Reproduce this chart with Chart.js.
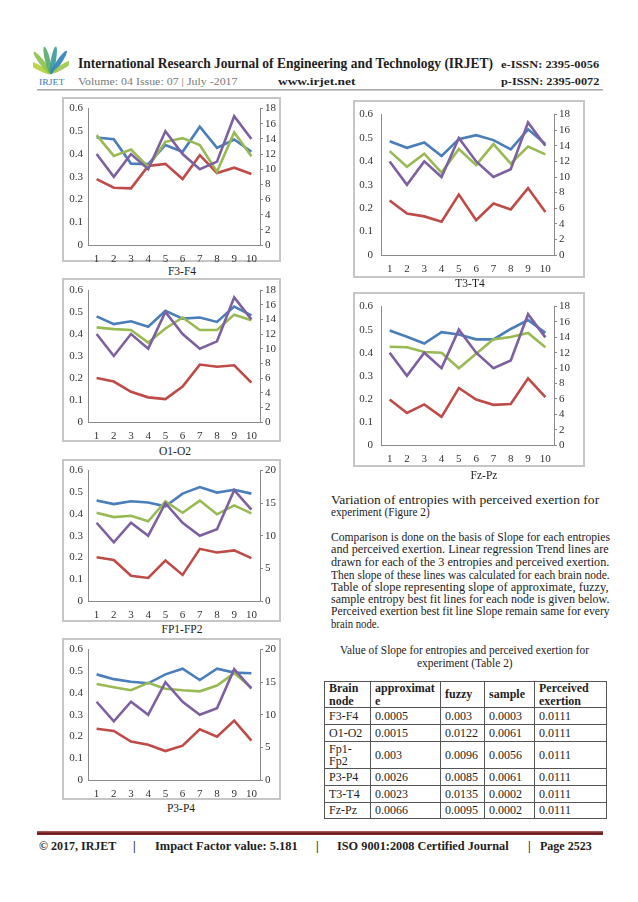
<!DOCTYPE html>
<html lang="en">
<head>
    <meta charset="UTF-8">
    <title>IRJET - Variation of entropies with perceived exertion</title>
    <script src="https://cdnjs.cloudflare.com/ajax/libs/Chart.js/4.4.1/chart.umd.min.js"></script>
    <style>
        * { margin: 0; padding: 0; box-sizing: border-box; }

        body {
            width: 638px;
            height: 902px;
            position: relative;
            overflow: hidden;
            background: #fff;
            font-family: "Liberation Serif", serif;
            color: #1e1e1e;
        }

        .t {
            position: absolute;
            white-space: nowrap;
            line-height: 14px;
            font-size: 11px;
            transform-origin: 0 50%;
        }

        .p { font-size: 12.5px; color: #222; }

        .b { font-weight: bold; }

        .box {
            position: absolute;
            border: 2px solid #c6c6c6;
        }

        canvas { position: absolute; }

        .cap {
            position: absolute;
            font-size: 11.5px;
            line-height: 14px;
            text-align: center;
            width: 100px;
        }

        .rule {
            position: absolute;
            left: 37px;
            width: 566px;
        }

        table {
            position: absolute;
            left: 324px;
            top: 681px;
            border-collapse: collapse;
            table-layout: fixed;
            font-size: 12px;
            line-height: 12.5px;
            border: 1.5px solid #666;
        }

        td {
            border: 1px solid #555;
            padding: 0 4px;
            vertical-align: middle;
            white-space: pre-line;
            overflow: hidden;
        }

        thead td { font-weight: bold; }
    </style>
</head>
<body>
    <!-- header -->
    <svg style="position:absolute;left:33px;top:43px" width="36" height="32" viewBox="0 0 36 32">
        <g fill-opacity="0.9">
            <ellipse cx="18" cy="17" rx="2.6" ry="14" fill="#b5cf3a" transform="rotate(-62 18 31)"/>
            <ellipse cx="18" cy="17" rx="2.6" ry="14" fill="#8cc04a" transform="rotate(-38 18 31)"/>
            <ellipse cx="18" cy="17" rx="2.6" ry="14" fill="#5aa96a" transform="rotate(-14 18 31)"/>
            <ellipse cx="18" cy="17" rx="2.6" ry="14" fill="#3a9a9a" transform="rotate(10 18 31)"/>
            <ellipse cx="18" cy="17" rx="2.6" ry="14" fill="#2f7fb8" transform="rotate(34 18 31)"/>
            <ellipse cx="18" cy="17" rx="2.4" ry="12" fill="#9cc84a" transform="rotate(58 18 31)"/>
        </g>
    </svg>
    <div class="t" style="left:39px;top:75px;font-size:9px;color:#3a78c0" data-w="26">IRJET</div>

    <div class="t b" style="left:78px;top:57px;font-size:14px" data-w="415">International Research Journal of Engineering and Technology (IRJET)</div>
    <div class="t b" style="left:501px;top:57px" data-w="98">e-ISSN: 2395-0056</div>
    <div class="t" style="left:78px;top:74px;color:#7a7a7a" data-w="159">Volume: 04 Issue: 07 | July -2017</div>
    <div class="t b" style="left:278px;top:74px" data-w="78">www.irjet.net</div>
    <div class="t b" style="left:501px;top:74px" data-w="98">p-ISSN: 2395-0072</div>
    <div class="rule" style="top:89px;height:2px;background:linear-gradient(#9a9a9a,#dcdcdc)"></div>

    <!-- charts -->
    <div class="box" style="left:62px;top:97px;width:219px;height:165px"></div>
    <canvas id="c1" style="left:62px;top:97px"></canvas>
    <div class="cap" style="left:132px;top:264px">F3-F4</div>

    <div class="box" style="left:62px;top:278px;width:219px;height:164px"></div>
    <canvas id="c2" style="left:62px;top:278px"></canvas>
    <div class="cap" style="left:125px;top:444px">O1-O2</div>

    <div class="box" style="left:62px;top:459px;width:219px;height:163px"></div>
    <canvas id="c3" style="left:62px;top:459px"></canvas>
    <div class="cap" style="left:132px;top:622px">FP1-FP2</div>

    <div class="box" style="left:62px;top:638px;width:219px;height:162px"></div>
    <canvas id="c4" style="left:62px;top:638px"></canvas>
    <div class="cap" style="left:131px;top:801px">P3-P4</div>

    <div class="box" style="left:353px;top:100px;width:232px;height:178px"></div>
    <canvas id="c5" style="left:353px;top:100px"></canvas>
    <div class="cap" style="left:420px;top:276px">T3-T4</div>

    <div class="box" style="left:353px;top:292px;width:232px;height:175px"></div>
    <canvas id="c6" style="left:353px;top:292px"></canvas>
    <div class="cap" style="left:434px;top:468px">Fz-Pz</div>

    <!-- text -->
    <div class="t p" style="left:331px;top:493px" data-w="268">Variation of entropies with perceived exertion for</div>
    <div class="t p" style="left:331px;top:505px" data-w="99">experiment (Figure 2)</div>
    <div class="t p" style="left:331px;top:530px" data-w="279">Comparison is done on the basis of Slope for each entropies</div>
    <div class="t p" style="left:331px;top:542px" data-w="278">and perceived exertion. Linear regression Trend lines are</div>
    <div class="t p" style="left:331px;top:555px" data-w="278">drawn for each of the 3 entropies and perceived exertion.</div>
    <div class="t p" style="left:331px;top:568px" data-w="279">Then slope of these lines was calculated for each brain node.</div>
    <div class="t p" style="left:331px;top:580px" data-w="278">Table of slope representing slope of approximate, fuzzy,</div>
    <div class="t p" style="left:331px;top:592px" data-w="278">sample entropy best fit lines for each node is given below.</div>
    <div class="t p" style="left:331px;top:604px" data-w="279">Perceived exertion best fit line Slope remain same for every</div>
    <div class="t p" style="left:331px;top:617px" data-w="48">brain node.</div>

    <div class="t p" style="left:340px;top:643px" data-w="249">Value of Slope for entropies and perceived exertion for</div>
    <div class="t p" style="left:417px;top:656px" data-w="96">experiment (Table 2)</div>

    <table id="slopeTable">
        <colgroup>
            <col style="width:46px"><col style="width:70px"><col style="width:44px"><col style="width:50px"><col style="width:72px">
        </colgroup>
        <thead></thead>
        <tbody></tbody>
    </table>

    <!-- footer -->
    <div class="rule" style="top:831px;height:4px;background:linear-gradient(#b06a6a,#6a1414 60%,#8a3a3a)"></div>
    <div class="t b" style="left:39px;top:839px;font-size:12px" data-w="77">© 2017, IRJET</div>
    <div class="t b" style="left:133px;top:839px;font-size:12px">|</div>
    <div class="t b" style="left:155px;top:839px;font-size:12px" data-w="143">Impact Factor value: 5.181</div>
    <div class="t b" style="left:316px;top:839px;font-size:12px">|</div>
    <div class="t b" style="left:337px;top:839px;font-size:12px" data-w="172">ISO 9001:2008 Certified Journal</div>
    <div class="t b" style="left:528px;top:839px;font-size:12px">|</div>
    <div class="t b" style="left:540px;top:839px;font-size:12px" data-w="52">Page 2523</div>

    <script>
        // x categories (same for every node)
        const categories = ['1', '2', '3', '4', '5', '6', '7', '8', '9', '10'];

        // perceived exertion (right axis), identical in all six charts
        const exertion = [12, 9, 12, 10, 15, 12, 10, 11, 17, 14];

        // entropies (left axis)
        const f3f4Approx = [0.473, 0.465, 0.358, 0.356, 0.440, 0.410, 0.520, 0.427, 0.464, 0.410];
        const f3f4Fuzzy  = [0.290, 0.252, 0.249, 0.348, 0.357, 0.290, 0.395, 0.317, 0.340, 0.312];
        const f3f4Sample = [0.483, 0.392, 0.420, 0.344, 0.454, 0.470, 0.440, 0.322, 0.495, 0.390];

        const o1o2Approx = [0.480, 0.445, 0.458, 0.433, 0.505, 0.470, 0.475, 0.455, 0.525, 0.485];
        const o1o2Fuzzy  = [0.200, 0.184, 0.137, 0.112, 0.104, 0.161, 0.261, 0.251, 0.258, 0.179];
        const o1o2Sample = [0.430, 0.422, 0.418, 0.361, 0.425, 0.475, 0.418, 0.418, 0.488, 0.463];

        const fp1fp2Approx = [0.462, 0.446, 0.459, 0.453, 0.436, 0.494, 0.524, 0.499, 0.512, 0.494];
        const fp1fp2Fuzzy  = [0.201, 0.189, 0.116, 0.106, 0.186, 0.120, 0.240, 0.223, 0.233, 0.197];
        const fp1fp2Sample = [0.406, 0.386, 0.392, 0.367, 0.458, 0.406, 0.462, 0.399, 0.440, 0.403];

        const p3p4Approx = [0.486, 0.464, 0.452, 0.445, 0.486, 0.512, 0.460, 0.512, 0.494, 0.491];
        const p3p4Fuzzy  = [0.236, 0.226, 0.177, 0.162, 0.133, 0.158, 0.233, 0.199, 0.273, 0.181];
        const p3p4Sample = [0.442, 0.427, 0.413, 0.447, 0.420, 0.413, 0.408, 0.435, 0.492, 0.425];

        const t3t4Approx = [0.486, 0.458, 0.481, 0.423, 0.495, 0.512, 0.491, 0.451, 0.537, 0.474];
        const t3t4Fuzzy  = [0.233, 0.177, 0.165, 0.142, 0.258, 0.149, 0.220, 0.195, 0.286, 0.184];
        const t3t4Sample = [0.444, 0.377, 0.433, 0.352, 0.453, 0.384, 0.474, 0.391, 0.463, 0.430];

        const fzpzApprox = [0.496, 0.469, 0.440, 0.489, 0.479, 0.458, 0.458, 0.503, 0.542, 0.486];
        const fzpzFuzzy  = [0.197, 0.139, 0.176, 0.122, 0.247, 0.197, 0.174, 0.178, 0.289, 0.208];
        const fzpzSample = [0.426, 0.424, 0.403, 0.400, 0.333, 0.396, 0.458, 0.468, 0.486, 0.424];

        // Table 2
        const tableHead = ['Brain\nnode', 'approximat\ne', 'fuzzy', 'sample', 'Perceived\nexertion'];
        const nodes = ['F3-F4', 'O1-O2', 'Fp1-\nFp2', 'P3-P4', 'T3-T4', 'Fz-Pz'];
        const approxSlope = ['0.0005', '0.0015', '0.003', '0.0026', '0.0023', '0.0066'];
        const fuzzySlope = ['0.003', '0.0122', '0.0096', '0.0085', '0.0135', '0.0095'];
        const sampleSlope = ['0.0003', '0.0061', '0.0056', '0.0061', '0.0002', '0.0002'];
        const exertionSlope = ['0.0111', '0.0111', '0.0111', '0.0111', '0.0111', '0.0111'];
        const rowHeights = [17, 17, 27, 17, 17, 16];

        const colors = { approx: '#4A7EBB', fuzzy: '#BE4B48', sample: '#98B954', exertion: '#7D60A0' };
        const axisColor = '#8a8a8a';

        Chart.defaults.font.family = '"Liberation Serif", serif';
        Chart.defaults.font.size = 11;
        Chart.defaults.color = '#333';

        function drawChart(id, geo, approx, fuzzy, sample, rightMax, rightStep) {
            const canvas = document.getElementById(id);
            canvas.width = geo.w;
            canvas.height = geo.h;

            const line = (data, color, axis, order) => ({
                data: data,
                borderColor: color,
                borderWidth: 2.6,
                pointRadius: 0,
                tension: 0,
                fill: false,
                yAxisID: axis,
                order: order
            });

            new Chart(canvas, {
                type: 'line',
                data: {
                    labels: categories,
                    datasets: [
                        line(approx, colors.approx, 'y', 4),
                        line(fuzzy, colors.fuzzy, 'y', 3),
                        line(sample, colors.sample, 'y', 2),
                        line(exertion, colors.exertion, 'y1', 1)
                    ]
                },
                options: {
                    responsive: false,
                    animation: false,
                    events: [],
                    layout: { padding: { top: geo.top, left: 0, right: 0, bottom: 0 } },
                    plugins: {
                        legend: { display: false },
                        tooltip: { enabled: false }
                    },
                    scales: {
                        x: {
                            offset: true,
                            grid: { display: false, drawTicks: false },
                            border: { color: axisColor },
                            ticks: { padding: 8, maxRotation: 0, autoSkip: false },
                            afterFit: s => { s.height = geo.xh; }
                        },
                        y: {
                            min: 0,
                            max: 0.6,
                            grid: { display: false, drawTicks: false },
                            border: { color: axisColor },
                            ticks: { stepSize: 0.1, padding: geo.lpad, autoSkip: false, callback: v => +v.toFixed(1) },
                            afterFit: s => { s.width = geo.yl; }
                        },
                        y1: {
                            position: 'right',
                            min: 0,
                            max: rightMax,
                            grid: { drawOnChartArea: false, drawTicks: true, tickLength: 3, color: axisColor },
                            border: { color: axisColor },
                            ticks: { stepSize: rightStep, padding: 2, autoSkip: false },
                            afterFit: s => { s.width = geo.yr; }
                        }
                    }
                }
            });
        }

        drawChart('c1', { w: 219, h: 165, top: 11, yl: 26, yr: 21, xh: 17, lpad: 5 }, f3f4Approx, f3f4Fuzzy, f3f4Sample, 18, 2);
        drawChart('c2', { w: 219, h: 164, top: 12, yl: 26, yr: 21, xh: 20, lpad: 5 }, o1o2Approx, o1o2Fuzzy, o1o2Sample, 18, 2);
        drawChart('c3', { w: 219, h: 163, top: 5, yl: 26, yr: 21, xh: 21, lpad: 5 }, fp1fp2Approx, fp1fp2Fuzzy, fp1fp2Sample, 20, 5);
        drawChart('c4', { w: 219, h: 162, top: 6, yl: 26, yr: 21, xh: 20, lpad: 5 }, p3p4Approx, p3p4Fuzzy, p3p4Sample, 20, 5);
        drawChart('c5', { w: 232, h: 178, top: 12, yl: 28, yr: 31, xh: 23, lpad: 8 }, t3t4Approx, t3t4Fuzzy, t3t4Sample, 18, 2);
        drawChart('c6', { w: 232, h: 175, top: 9, yl: 28, yr: 31, xh: 22, lpad: 8 }, fzpzApprox, fzpzFuzzy, fzpzSample, 18, 2);

        // table
        const table = document.getElementById('slopeTable');
        const headRow = table.tHead.insertRow();
        headRow.style.height = '26px';
        tableHead.forEach(h => { headRow.insertCell().textContent = h; });
        nodes.forEach((node, i) => {
            const row = table.tBodies[0].insertRow();
            row.style.height = rowHeights[i] + 'px';
            [node, approxSlope[i], fuzzySlope[i], sampleSlope[i], exertionSlope[i]].forEach(v => {
                row.insertCell().textContent = v;
            });
        });

        // squeeze/stretch text lines to the widths they take on the page
        document.querySelectorAll('[data-w]').forEach(el => {
            const w = el.offsetWidth;
            el.style.transform = 'scaleX(' + (el.dataset.w / w) + ')';
        });
    </script>
</body>
</html>
